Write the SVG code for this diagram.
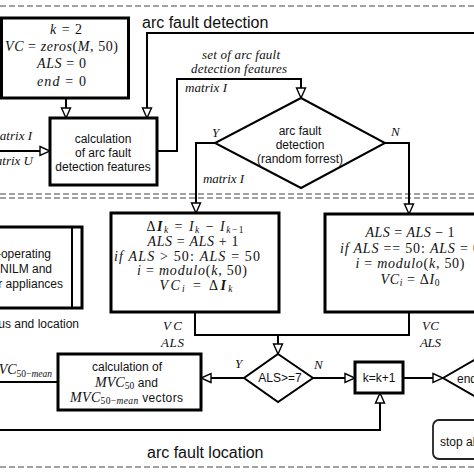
<svg xmlns="http://www.w3.org/2000/svg" width="474" height="474" viewBox="0 0 474 474">
<defs>
<marker id="ah" viewBox="0 0 12 12" refX="11" refY="6" markerWidth="12" markerHeight="12" markerUnits="userSpaceOnUse" orient="auto">
<path d="M1,1.5 L11,6 L1,10.5 z" fill="#fff" stroke="#000" stroke-width="1.4"/>
</marker>
</defs>
<style>
.box{fill:#fff;stroke:#000;stroke-width:3}
.dia{fill:#fff;stroke:#000;stroke-width:2}
.ln{fill:none;stroke:#000;stroke-width:2}
.arr{fill:none;stroke:#000;stroke-width:2;marker-end:url(#ah)}
.dash{fill:none;stroke:#444;stroke-width:1.2;stroke-dasharray:6 3}
.t{font-family:"Liberation Sans",Arial,sans-serif;font-size:12px;fill:#111}
.h{font-family:"Liberation Sans",Arial,sans-serif;font-size:16px;fill:#111}
.m{font-family:"Liberation Serif","Times New Roman",serif;font-size:14px;fill:#111}
.lab{font-family:"Liberation Serif","Times New Roman",serif;font-style:italic;font-size:13px;fill:#111}
.i{font-style:italic}
.b{font-style:italic;font-weight:bold}
.su{font-size:9.5px}
.c{text-anchor:middle}
.e{text-anchor:end}
</style>
<rect width="474" height="474" fill="#fff"/>

<g id="separators">
<line class="dash" x1="0" y1="6" x2="474" y2="6"/>
<line class="dash" x1="0" y1="194" x2="474" y2="194"/>
<line class="dash" x1="0" y1="198" x2="474" y2="198"/>
<line class="dash" x1="0" y1="467" x2="474" y2="467"/>
</g>

<g id="connectors">
<path class="arr" d="M66,98 V118"/>
<path class="arr" d="M474,33 H147 V118"/>
<path class="arr" d="M0,151 H50"/>
<path class="arr" d="M157,151 H177 V79 H301 V98"/>
<path class="arr" d="M215,143 H196 V213"/>
<path class="arr" d="M385,143 H409 V214"/>
<path class="ln" d="M195,312 V335 H409 V312"/>
<path class="arr" d="M278,335 V354"/>
<path class="arr" d="M244,378 H201"/>
<path class="arr" d="M313,378 H355"/>
<path class="arr" d="M403,378 H443"/>
<path class="ln" d="M58,382 H0"/>
<path class="arr" d="M0,430 H380 V393"/>
</g>

<g id="labels">
<text class="h" x="142" y="28">arc fault detection</text>
<text class="h" x="147" y="458">arc fault location</text>
<text class="lab e" x="32" y="140">matrix I</text>
<text class="lab e" x="33" y="165">matrix U</text>
<text class="lab c" x="241" y="59" textLength="78">set of arc fault</text>
<text class="lab c" x="239" y="73" textLength="96">detection features</text>
<text class="lab" x="185" y="92" textLength="42">matrix I</text>
<text class="lab" x="203" y="183" textLength="41">matrix I</text>
<text class="lab" x="212" y="137" font-size="15">Y</text>
<text class="lab" x="391" y="136" font-size="15">N</text>
<text class="lab" x="163" y="330" textLength="19">VC</text>
<text class="lab" x="161" y="347" textLength="23">ALS</text>
<text class="lab" x="422" y="330" textLength="17">VC</text>
<text class="lab" x="420" y="347" textLength="21">ALS</text>
<text class="lab" x="235" y="368" font-size="15">Y</text>
<text class="lab" x="314" y="369" font-size="15">N</text>
<text class="m e" x="52" y="374"><tspan class="i">MVC</tspan><tspan class="su" dy="3">50−<tspan class="i">mean</tspan></tspan></text>
<text class="t e" x="79" y="328">us and location</text>
</g>

<g id="init">
<rect class="box" x="1.5" y="18" width="127" height="80"/>
<text class="m c" x="66" y="34" font-size="15" textLength="32"><tspan class="i">k</tspan> = 2</text>
<text class="m c" x="61.5" y="51" font-size="15" textLength="113"><tspan class="i">VC</tspan> = <tspan class="i">zeros</tspan>(<tspan class="i">M</tspan>, 50)</text>
<text class="m c" x="61.5" y="68" font-size="15" textLength="49"><tspan class="i">ALS</tspan> = 0</text>
<text class="m c" x="61.5" y="86" font-size="15" textLength="49"><tspan class="i">end</tspan> = 0</text>
</g>

<g id="calc-features">
<rect class="box" x="50" y="118" width="107" height="67"/>
<text class="t c" x="103" y="143" font-size="12.5">calculation</text>
<text class="t c" x="103" y="157" font-size="12.5">of arc fault</text>
<text class="t c" x="103" y="171" font-size="12.5">detection features</text>
</g>

<g id="detect">
<polygon class="dia" points="301,98 385,143 301,188 215,143"/>
<text class="t c" x="300" y="135">arc fault</text>
<text class="t c" x="300" y="149">detection</text>
<text class="t c" x="300" y="163">(random forrest)</text>
</g>

<g id="nilm">
<rect class="box" x="-100" y="227" width="182" height="81"/>
<line class="ln" x1="72" y1="227" x2="72" y2="308"/>
<text class="t e" x="51" y="258">-operating</text>
<text class="t e" x="52" y="273">NILM and</text>
<text class="t e" x="63" y="288">r appliances</text>
</g>

<g id="fault-yes">
<rect class="box" x="111" y="213" width="168" height="99"/>
<text class="m c" x="195" y="231" textLength="97">Δ<tspan class="b">I</tspan><tspan class="su i" dy="2">k</tspan><tspan dy="-2"> = </tspan><tspan class="i">I</tspan><tspan class="su i" dy="2">k</tspan><tspan dy="-2"> − </tspan><tspan class="i">I</tspan><tspan class="su" dy="2"><tspan class="i">k</tspan>−1</tspan></text>
<text class="m c" x="193" y="246" textLength="91"><tspan class="i">ALS</tspan> = <tspan class="i">ALS</tspan> + 1</text>
<text class="m c" x="187" y="261" textLength="146"><tspan class="i">if ALS</tspan> &gt; 50: <tspan class="i">ALS</tspan> = 50</text>
<text class="m c" x="192" y="275" textLength="110"><tspan class="i">i</tspan> = <tspan class="i">modulo</tspan>(<tspan class="i">k</tspan>, 50)</text>
<text class="m c" x="196" y="290" textLength="73"><tspan class="i">VC</tspan><tspan class="su i" dy="2">i</tspan><tspan dy="-2"> = Δ</tspan><tspan class="b">I</tspan><tspan class="su i" dy="2">k</tspan></text>
</g>

<g id="fault-no">
<rect class="box" x="325" y="214" width="170" height="98"/>
<text class="m c" x="410" y="237" textLength="89"><tspan class="i">ALS</tspan> = <tspan class="i">ALS</tspan> − 1</text>
<text class="m c" x="410" y="253" textLength="140"><tspan class="i">if ALS</tspan> == 50: <tspan class="i">ALS</tspan> = 0</text>
<text class="m c" x="410" y="268" textLength="109"><tspan class="i">i</tspan> = <tspan class="i">modulo</tspan>(<tspan class="i">k</tspan>, 50)</text>
<text class="m c" x="410" y="284" textLength="59"><tspan class="i">VC</tspan><tspan class="su i" dy="2">i</tspan><tspan dy="-2"> = Δ</tspan><tspan class="i">I</tspan><tspan class="su" dy="2">0</tspan></text>
</g>

<g id="als-check">
<polygon class="dia" points="278,354 313,378 278,402 244,378"/>
<text class="t c" x="280" y="382" font-size="13">ALS&gt;=7</text>
</g>

<g id="increment">
<rect class="box" x="355" y="362" width="48" height="31" stroke-width="3.5"/>
<text class="t c" x="379" y="382">k=k+1</text>
</g>

<g id="calc-mvc">
<rect class="box" x="58" y="354" width="143" height="56"/>
<text class="t c" x="127" y="371">calculation of</text>
<text x="95" y="387" textLength="63"><tspan class="m i">MVC</tspan><tspan class="m su" dy="2">50</tspan><tspan class="t" dy="-2"> and</tspan></text>
<text x="70" y="402" textLength="113"><tspan class="m i">MVC</tspan><tspan class="m su" dy="2">50−<tspan class="i">mean</tspan></tspan><tspan class="t" dy="-2"> vectors</tspan></text>
</g>

<g id="end-check">
<polygon class="dia" points="443,378 500,345 557,378 500,411"/>
<text class="t" x="457" y="383">end</text>
</g>

<g id="stop">
<rect x="433" y="420" width="100" height="39" rx="6" fill="#fff" stroke="#222" stroke-width="1.8"/>
<text class="t" x="440" y="446" font-size="13">stop al</text>
</g>
</svg>
